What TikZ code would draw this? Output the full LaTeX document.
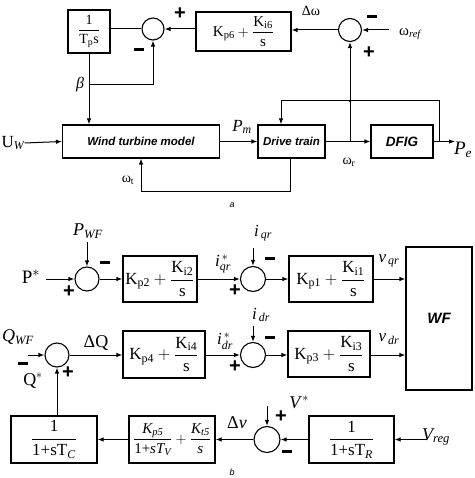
\documentclass[tikz,border=0pt]{standalone}
\usepackage{amsmath}
\usepackage{fontspec}
\setmainfont{Liberation Serif}
\setsansfont{Liberation Sans}
\usetikzlibrary{arrows.meta}
\newcommand{\rmx}[1]{\text{#1}}
\newcommand{\itx}[1]{\textit{#1}}
\newcommand{\mns}{\rule{10pt}{3pt}}
\tikzset{
  blk/.style 2 args={draw, line width=1.1pt, inner sep=1pt, minimum width=#1, minimum height=#2},
  sumc/.style={draw, circle, line width=1.1pt, minimum size=24pt, inner sep=0pt},
  sgn/.style={font=\sffamily\bfseries\fontsize{20}{20}\selectfont, inner sep=0pt},
  ltop/.style={font=\fontsize{14}{16}\selectfont, inner sep=0pt},
  lbot/.style={font=\fontsize{17}{19}\selectfont, inner sep=0pt},
  tbox/.style={font=\sffamily\bfseries\itshape\fontsize{11.5}{13}\selectfont},
  wire/.style={line width=1pt},
  flow/.style={wire, -{Latex[length=6pt,width=4.5pt]}},
}
\begin{document}
\begin{tikzpicture}[x=1pt,y=-1pt]
  \useasboundingbox (0,0) rectangle (474,478);
  % (a) speed and pitch loop
  \node[blk={42pt}{43pt}, ltop] (tps) at (89,31.5) {$\dfrac{\rmx{1}}{\rmx{T}_{\rmx{p}}\rmx{s}}$};
  \node[sumc, minimum size=22pt] (sum1) at (153,29) {};
  \node[blk={95pt}{39pt}, ltop, font=\fontsize{15}{17}\selectfont] (kp6) at (243.5,31.5) {$\rmx{K}_{\rmx{p6}}+\dfrac{\rmx{K}_{\rmx{i6}}}{\rmx{s}}$};
  \node[sumc, minimum size=23pt] (sum2) at (350,30) {};
  \node[blk={157pt}{33pt}, tbox] (wtm) at (141,141.5) {Wind turbine model};
  \node[blk={67pt}{33pt}, tbox, inner sep=0pt] (drive) at (291.5,141.5) {Drive train};
  \node[blk={62pt}{33pt}, tbox, font=\sffamily\bfseries\itshape\fontsize{13.5}{15}\selectfont] (dfig) at (402,141.5) {DFIG};

  \node[ltop] (ldw) at (311,11) {Δω};
  \node[ltop, font=\fontsize{15}{17}\selectfont] (lwref) at (410,34) {$\rmx{ω}_{\itx{ref}}$};
  \node[ltop, font=\fontsize{16}{18}\selectfont] (lbeta) at (80,85) {\itx{β}};
  \node[ltop, font=\fontsize{17}{19}\selectfont] (luw) at (13,143) {$\rmx{U}_{\itx{W}}$};
  \node[ltop, font=\fontsize{17}{19}\selectfont] (lpm) at (242,127) {$\itx{P}_{\itx{m}}$};
  \node[ltop] (lwt) at (128,180) {$\rmx{ω}_{\rmx{t}}$};
  \node[ltop] (lwr) at (349,162) {$\rmx{ω}_{\rmx{r}}$};
  \node[lbot, font=\fontsize{19}{21}\selectfont] (lpe) at (463,150) {$\itx{P}_{\itx{e}}$};
  \node[font=\sffamily\itshape\fontsize{9}{10}\selectfont] (la) at (232,205) {a};

  \node[sgn] (s1) at (180,14) {+};
  \node[sgn] (s2) at (139,50) {\mns};
  \node[sgn] (s3) at (372,17) {\mns};
  \node[sgn] (s4) at (369,53) {+};

  \coordinate (wref) at (389,30);
  \coordinate (bj) at (tps.south |- 0,85);
  \coordinate (wrj) at (sum2 |- drive.east);
  \coordinate (pej) at (439,141.5);
  \coordinate (pend) at (455,141.5);
  \coordinate (fb) at (439,101);
  \coordinate (wtj) at (290,191);

  \draw[flow] (wref) -- (sum2.east);
  \draw[flow] (sum2.west) -- (sum2.west -| kp6.east);
  \draw[flow] (kp6.west |- sum1) -- (sum1.east);
  \draw[wire] (sum1.west) -- (sum1.west -| tps.east);
  \draw[flow] (tps.south) -- (tps.south |- wtm.north);
  \draw[flow] (bj) -| (sum1.south);
  \draw[flow] (luw.east) -- (wtm.west);
  \draw[flow] (wtm.east) -- (drive.west);
  \draw[flow] (drive.east) -- (dfig.west);
  \draw[flow] (wrj) -- (sum2.south);
  \draw[flow] (dfig.east) -- (pend);
  \draw[flow] (pej) -- (fb) -| ([xshift=-10.5pt]drive.north);
  \fill (sum2 |- fb) circle (1.3pt);
  \draw[flow] (wtj |- drive.south) -- (wtj) -| (wtm.south);

  % (b) wind farm control
  \node[sumc] (sum3) at (87,279) {};
  \node[blk={74pt}{46pt}, lbot] (kp2) at (160,279) {$\rmx{K}_{\rmx{p2}}+\dfrac{\rmx{K}_{\rmx{i2}}}{\rmx{s}}$};
  \node[sumc, minimum size=25pt] (sum4) at (253,279) {};
  \node[blk={84pt}{46pt}, lbot] (kp1) at (331,279) {$\rmx{K}_{\rmx{p1}}+\dfrac{\rmx{K}_{\rmx{i1}}}{\rmx{s}}$};
  \node[blk={66pt}{143pt}, tbox, font=\sffamily\bfseries\itshape\fontsize{15}{17}\selectfont] (wf) at (439,318.5) {WF};
  \node[sumc] (sum6) at (57,355) {};
  \node[blk={82pt}{47pt}, lbot] (kp4) at (164,354.5) {$\rmx{K}_{\rmx{p4}}+\dfrac{\rmx{K}_{\rmx{i4}}}{\rmx{s}}$};
  \node[sumc, minimum size=25pt] (sum5) at (253,355) {};
  \node[blk={82pt}{46pt}, lbot] (kp3) at (329,354) {$\rmx{K}_{\rmx{p3}}+\dfrac{\rmx{K}_{\rmx{i3}}}{\rmx{s}}$};
  \node[blk={86pt}{47pt}, lbot] (tc) at (54,439.5) {$\dfrac{\rmx{1}}{\rmx{1+sT}_{\itx{C}}}$};
  \node[blk={86pt}{47pt}, lbot, font=\fontsize{15}{17}\selectfont] (kp5) at (172,439.5) {$\dfrac{\itx{K}_{\itx{p5}}}{\rmx{1+}\itx{sT}_{\itx{V}}}+\dfrac{\itx{K}_{\itx{t5}}}{\itx{s}}$};
  \node[sumc, minimum size=26pt] (sum7) at (267,439.5) {};
  \node[blk={85pt}{47pt}, lbot] (tr) at (351.5,439.5) {$\dfrac{\rmx{1}}{\rmx{1+sT}_{\itx{R}}}$};

  \node[lbot, font=\fontsize{18}{20}\selectfont] (lpwf) at (88,231) {$\itx{P}_{\itx{WF}}$};
  \node[lbot, font=\fontsize{19}{21}\selectfont] (lps) at (31,277) {$\rmx{P}^{*}$};
  \node[lbot] (liqrs) at (223,264) {$\itx{i}^{\,*}_{\itx{qr}}$};
  \node[lbot] (liqr) at (263,233) {$\itx{i}_{\,\itx{qr}}$};
  \node[lbot] (lvqr) at (389,261) {$\itx{v}_{\,\itx{qr}}$};
  \node[lbot] (lidr) at (261,315) {$\itx{i}_{\,\itx{dr}}$};
  \node[lbot] (lidrs) at (225,341) {$\itx{i}^{\,*}_{\itx{dr}}$};
  \node[lbot] (lvdr) at (389,339) {$\itx{v}_{\,\itx{dr}}$};
  \node[lbot, font=\fontsize{18}{20}\selectfont] (lqwf) at (18,337) {$\itx{Q}_{\itx{WF}}$};
  \node[lbot, font=\fontsize{18}{20}\selectfont] (ldq) at (96,343) {ΔQ};
  \node[lbot, font=\fontsize{18}{20}\selectfont] (lqs) at (33,381) {$\rmx{Q}^{*}$};
  \node[lbot, font=\fontsize{18}{20}\selectfont] (ldv) at (237,423) {Δ\itx{v}};
  \node[lbot, font=\fontsize{18}{20}\selectfont] (lvs) at (299,402) {$\itx{V}^{\,*}$};
  \node[lbot, font=\fontsize{18}{20}\selectfont] (lvreg) at (436,437) {$\itx{V}_{\itx{reg}}$};
  \node[font=\sffamily\itshape\fontsize{9}{10}\selectfont] (lb) at (232,472) {b};

  \node[sgn] (s5) at (105,262) {\mns};
  \node[sgn] (s6) at (69,292) {+};
  \node[sgn] (s7) at (270,258) {\mns};
  \node[sgn] (s8) at (235,291) {+};
  \node[sgn] (s9) at (270,337) {\mns};
  \node[sgn] (s10) at (235,367) {+};
  \node[sgn] (s11) at (23,363) {\mns};
  \node[sgn] (s12) at (68,373) {+};
  \node[sgn] (s13) at (281,417) {+};
  \node[sgn] (s14) at (287,451) {\mns};

  \coordinate (ps) at (46,279);
  \coordinate (pwf) at (87,242);
  \coordinate (iqr) at (253,248);
  \coordinate (idr) at (253,326);
  \coordinate (qwf) at (28,355);
  \coordinate (vs) at (267,406);
  \coordinate (vreg) at (427,439.5);

  \draw[flow] (ps) -- (sum3.west);
  \draw[flow] (pwf) -- (sum3.north);
  \draw[flow] (sum3.east) -- (kp2.west);
  \draw[flow] (kp2.east) -- (sum4.west);
  \draw[flow] (iqr) -- (sum4.north);
  \draw[flow] (sum4.east) -- (kp1.west);
  \draw[flow] (kp1.east) -- (kp1.east -| wf.west);
  \draw[flow] (qwf) -- (sum6.west);
  \draw[flow] (sum6.east) -- (sum6.east -| kp4.west);
  \draw[flow] (kp4.east |- sum5) -- (sum5.west);
  \draw[flow] (idr) -- (sum5.north);
  \draw[flow] (sum5.east) -- (sum5.east -| kp3.west);
  \draw[flow] (kp3.east |- sum5) -- (sum5 -| wf.west);
  \draw[flow] (vreg) -- (tr.east);
  \draw[flow] (tr.west) -- (sum7.east);
  \draw[flow] (vs) -- (sum7.north);
  \draw[flow] (sum7.west) -- (kp5.east);
  \draw[flow] (kp5.west) -- (tc.east);
  \draw[flow] (sum6 |- tc.north) -- (sum6.south);
\end{tikzpicture}
\end{document}
